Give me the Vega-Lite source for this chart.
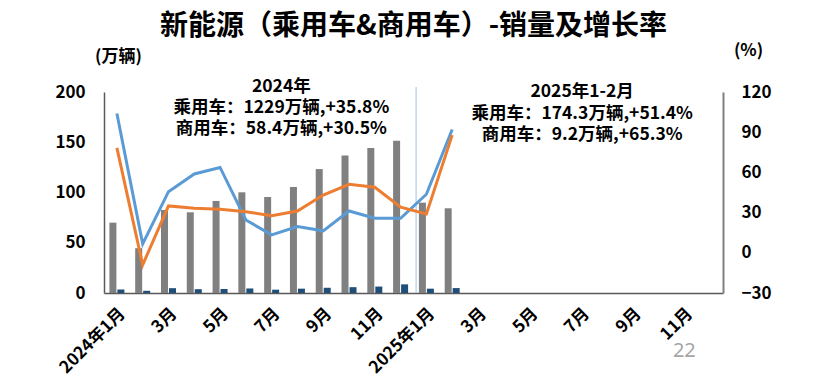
{
  "$schema": "https://vega.github.io/schema/vega-lite/v6.json",
  "width": 619,
  "height": 201,
  "autosize": {"type": "none"},
  "padding": {"left": 104, "top": 92, "right": 108, "bottom": 96},
  "background": "white",
  "title": {
    "text": "新能源（乘用车&商用车）-销量及增长率",
    "font": "Noto Sans CJK SC",
    "fontSize": 28,
    "fontWeight": "bold",
    "color": "#000000",
    "anchor": "middle",
    "frame": "group",
    "offset": 0
  },
  "config": {
    "view": {"stroke": null},
    "font": "Noto Sans CJK SC",
    "axis": {"grid": false, "ticks": false}
  },
  "data": {
    "values": [
      {"k": 1, "pv": 70.0, "cv": 3.5, "bg": 103.9, "og": 78.3},
      {"k": 2, "pv": 44.6, "cv": 2.2, "bg": 6.7, "og": -9.0},
      {"k": 3, "pv": 82.6, "cv": 4.8, "bg": 45.6, "og": 35.0},
      {"k": 4, "pv": 80.3, "cv": 3.8, "bg": 58.8, "og": 33.2},
      {"k": 5, "pv": 91.6, "cv": 4.0, "bg": 63.7, "og": 32.5},
      {"k": 6, "pv": 100.2, "cv": 4.5, "bg": 24.5, "og": 30.7},
      {"k": 7, "pv": 95.5, "cv": 3.3, "bg": 13.4, "og": 27.7},
      {"k": 8, "pv": 105.5, "cv": 4.3, "bg": 19.6, "og": 31.2},
      {"k": 9, "pv": 123.3, "cv": 5.2, "bg": 16.4, "og": 43.1},
      {"k": 10, "pv": 136.9, "cv": 5.8, "bg": 31.2, "og": 51.1},
      {"k": 11, "pv": 144.4, "cv": 6.4, "bg": 25.8, "og": 48.9},
      {"k": 12, "pv": 151.4, "cv": 8.6, "bg": 25.8, "og": 34.0},
      {"k": 13, "pv": 89.9, "cv": 4.3, "bg": 43.7, "og": 29.0},
      {"k": 14, "pv": 84.3, "cv": 4.9, "bg": 92.0, "og": 87.8}
    ]
  },
  "encoding": {
    "x": {
      "field": "k",
      "type": "ordinal",
      "scale": {
        "domain": [1, 2, 3, 4, 5, 6, 7, 8, 9, 10, 11, 12, 13, 14, 15, 16, 17, 18, 19, 20, 21, 22, 23, 24],
        "paddingInner": 0,
        "paddingOuter": 0
      },
      "axis": {
        "title": null,
        "labelExpr": "datum.value==1?'2024年1月':datum.value==13?'2025年1月':(datum.value%2==1?(((datum.value-1)%12)+1)+'月':'')",
        "labelAngle": -45,
        "labelFontSize": 17,
        "labelFontWeight": "bold",
        "labelColor": "#000000",
        "labelPadding": 12,
        "domainColor": "#595959",
        "domainWidth": 1.5
      }
    }
  },
  "layer": [
    {
      "layer": [
        {
          "transform": [{"fold": ["pv", "cv"], "as": ["s", "v"]}],
          "mark": {"type": "bar"},
          "encoding": {
            "xOffset": {
              "field": "s",
              "type": "nominal",
              "scale": {"domain": ["pv", "cv"], "paddingInner": 0.125, "paddingOuter": 0.675}
            },
            "y": {
              "field": "v",
              "type": "quantitative",
              "scale": {"domain": [0, 200], "nice": false},
              "axis": {
                "orient": "left",
                "values": [0, 50, 100, 150, 200],
                "title": "(万辆)",
                "titleAngle": 0,
                "titleX": 14,
                "titleY": -36,
                "titleAlign": "center",
                "titleBaseline": "middle",
                "titleFontSize": 17,
                "titleFontWeight": "bold",
                "titleColor": "#000000",
                "labelFontSize": 17,
                "labelFontWeight": "bold",
                "labelColor": "#000000",
                "labelPadding": 19,
                "domainColor": "#595959",
                "domainWidth": 1.5
              }
            },
            "color": {
              "field": "s",
              "type": "nominal",
              "scale": {"domain": ["pv", "cv"], "range": ["#808080", "#1f4e79"]},
              "legend": null
            }
          }
        },
        {
          "data": {"values": [{}]},
          "mark": {"type": "rule", "color": "#9dc3e6", "strokeWidth": 1},
          "encoding": {
            "x": {"datum": 13, "type": "ordinal", "bandPosition": 0.1},
            "y": {"datum": 205, "type": "quantitative"},
            "y2": {"datum": 0}
          }
        },
        {
          "data": {"values": [{}]},
          "mark": {
            "type": "text",
            "font": "Noto Sans CJK SC",
            "fontSize": 17.5,
            "fontWeight": "bold",
            "color": "#000000",
            "lineBreak": "\n",
            "lineHeight": 21,
            "align": "center",
            "baseline": "middle",
            "dx": 9.7
          },
          "encoding": {
            "x": {"datum": 7, "type": "ordinal"},
            "y": {"datum": 205.3, "type": "quantitative"},
            "text": {"value": "2024年\n乘用车：1229万辆,+35.8%\n商用车：58.4万辆,+30.5%"}
          }
        },
        {
          "data": {"values": [{}]},
          "mark": {
            "type": "text",
            "font": "Noto Sans CJK SC",
            "fontSize": 17.5,
            "fontWeight": "bold",
            "color": "#000000",
            "lineBreak": "\n",
            "lineHeight": 21.5,
            "align": "center",
            "baseline": "middle",
            "dx": 1
          },
          "encoding": {
            "x": {"datum": 19, "type": "ordinal"},
            "y": {"datum": 199.7, "type": "quantitative"},
            "text": {"value": "2025年1-2月\n乘用车：174.3万辆,+51.4%\n商用车：9.2万辆,+65.3%"}
          }
        },
        {
          "data": {"values": [{}]},
          "mark": {
            "type": "text",
            "font": "Noto Sans",
            "fontSize": 20,
            "color": "#a6a6a6",
            "align": "center",
            "baseline": "middle"
          },
          "encoding": {
            "x": {"datum": 23, "type": "ordinal"},
            "y": {"datum": -58.2, "type": "quantitative"},
            "text": {"value": "22"}
          }
        }
      ]
    },
    {
      "layer": [
        {
          "mark": {"type": "line", "color": "#5b9bd5", "strokeWidth": 3},
          "encoding": {
            "y": {
              "field": "bg",
              "type": "quantitative",
              "scale": {"domain": [-30, 120], "nice": false},
              "axis": {
                "orient": "right",
                "values": [-30, 0, 30, 60, 90, 120],
                "title": "(%)",
                "titleAngle": 0,
                "titleX": 25,
                "titleY": -42,
                "titleAlign": "center",
                "titleBaseline": "middle",
                "titleFontSize": 17,
                "titleFontWeight": "bold",
                "titleColor": "#000000",
                "labelFontSize": 17,
                "labelFontWeight": "bold",
                "labelColor": "#000000",
                "labelPadding": 18,
                "domainColor": "#7f7f7f",
                "domainWidth": 2
              }
            }
          }
        },
        {
          "mark": {"type": "line", "color": "#ed7d31", "strokeWidth": 3},
          "encoding": {
            "y": {
              "field": "og",
              "type": "quantitative",
              "scale": {"domain": [-30, 120], "nice": false},
              "axis": {
                "orient": "right",
                "values": [-30, 0, 30, 60, 90, 120],
                "title": "(%)",
                "titleAngle": 0,
                "titleX": 25,
                "titleY": -42,
                "titleAlign": "center",
                "titleBaseline": "middle",
                "titleFontSize": 17,
                "titleFontWeight": "bold",
                "titleColor": "#000000",
                "labelFontSize": 17,
                "labelFontWeight": "bold",
                "labelColor": "#000000",
                "labelPadding": 18,
                "domainColor": "#7f7f7f",
                "domainWidth": 2
              }
            }
          }
        }
      ]
    }
  ],
  "resolve": {"scale": {"y": "independent"}}
}
